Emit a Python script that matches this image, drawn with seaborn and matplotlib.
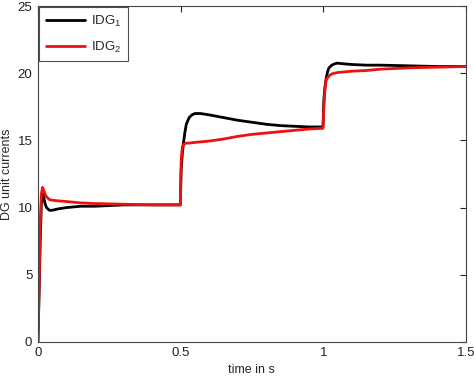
import numpy as np
import pandas as pd
import seaborn as sns
import matplotlib
matplotlib.use("Agg")
import matplotlib.pyplot as plt

# values
t_idg1 = [0.0, 0.004, 0.008, 0.012, 0.016, 0.02, 0.025, 0.03, 0.04, 0.05, 0.07, 0.1, 0.15, 0.2,
          0.3, 0.4, 0.499, 0.502, 0.506, 0.51, 0.515, 0.52, 0.53, 0.54, 0.55, 0.57, 0.6, 0.65,
          0.7, 0.75, 0.8, 0.85, 0.9, 0.95, 0.999, 1.002, 1.006, 1.01, 1.015, 1.02, 1.03, 1.04,
          1.05, 1.07, 1.1, 1.15, 1.2, 1.3, 1.4, 1.5]
i_idg1 = [0.0, 3.5, 7.5, 10.2, 11.0, 10.8, 10.3, 10.0, 9.8, 9.8, 9.9, 10.0, 10.1, 10.1,
          10.2, 10.2, 10.2, 12.8, 14.0, 14.8, 15.6, 16.2, 16.7, 16.9, 17.0, 17.0, 16.9, 16.7,
          16.5, 16.35, 16.2, 16.1, 16.05, 16.0, 16.0, 18.0, 19.0, 19.6, 20.1, 20.4, 20.6, 20.7,
          20.75, 20.7, 20.65, 20.6, 20.6, 20.55, 20.5, 20.5]

t_idg2 = [0.0, 0.004, 0.008, 0.012, 0.016, 0.02, 0.025, 0.03, 0.04, 0.05, 0.07, 0.1, 0.15, 0.2,
          0.3, 0.4, 0.499, 0.502, 0.506, 0.51, 0.52, 0.53, 0.55, 0.6, 0.65, 0.7, 0.75, 0.8,
          0.85, 0.9, 0.95, 0.999, 1.002, 1.006, 1.01, 1.02, 1.03, 1.05, 1.1, 1.15, 1.2, 1.3,
          1.4, 1.5]
i_idg2 = [0.0, 4.0, 8.5, 11.0, 11.5, 11.3, 11.0, 10.8, 10.6, 10.55, 10.5, 10.45, 10.35, 10.3,
          10.25, 10.2, 10.2, 13.5, 14.5, 14.7, 14.8, 14.8, 14.85, 14.95, 15.1, 15.3, 15.45, 15.55,
          15.65, 15.75, 15.85, 15.9, 17.5, 18.8, 19.5, 19.8, 19.95, 20.05, 20.15, 20.2, 20.3, 20.4,
          20.45, 20.5]

series_names = ["IDG$_1$", "IDG$_2$"]
series_colors = ["#000000", "#ee1111"]

df = pd.concat([
    pd.DataFrame({"t": t_idg1, "i": i_idg1, "unit": series_names[0]}),
    pd.DataFrame({"t": t_idg2, "i": i_idg2, "unit": series_names[1]}),
])

sns.set_style("white")
plt.rcParams["font.family"] = ["Liberation Sans", "DejaVu Sans"]
plt.rcParams["mathtext.default"] = "regular"

fig = plt.figure(figsize=(4.74, 3.77), dpi=100)
ax = fig.add_axes([0.080, 0.093, 0.903, 0.891])

sns.lineplot(data=df, x="t", y="i", hue="unit", palette=series_colors,
             linewidth=2, ax=ax, sort=False, estimator=None)

ax.set_xlim(0, 1.5)
ax.set_ylim(0, 25)
ax.set_xticks([0, 0.5, 1, 1.5])
ax.set_xticklabels(["0", "0.5", "1", "1.5"])
ax.set_yticks([0, 5, 10, 15, 20, 25])
ax.tick_params(direction="in", length=4, width=0.8, top=True, right=True,
               labelsize=9.5, colors="#222222", pad=4)
for s in ax.spines.values():
    s.set_color("#444444")
    s.set_linewidth(0.8)

ax.set_xlabel("time in s", fontsize=9, labelpad=3)
ax.set_ylabel("DG unit currents", fontsize=9, labelpad=3)

leg = ax.legend(loc="upper left", fontsize=9.5, frameon=True, fancybox=False,
                edgecolor="#222222", borderaxespad=0.1, handlelength=3.0,
                handletextpad=0.4, labelspacing=0.8, borderpad=0.5)
leg.get_frame().set_linewidth(0.8)

fig.savefig("out.png", dpi=100)
